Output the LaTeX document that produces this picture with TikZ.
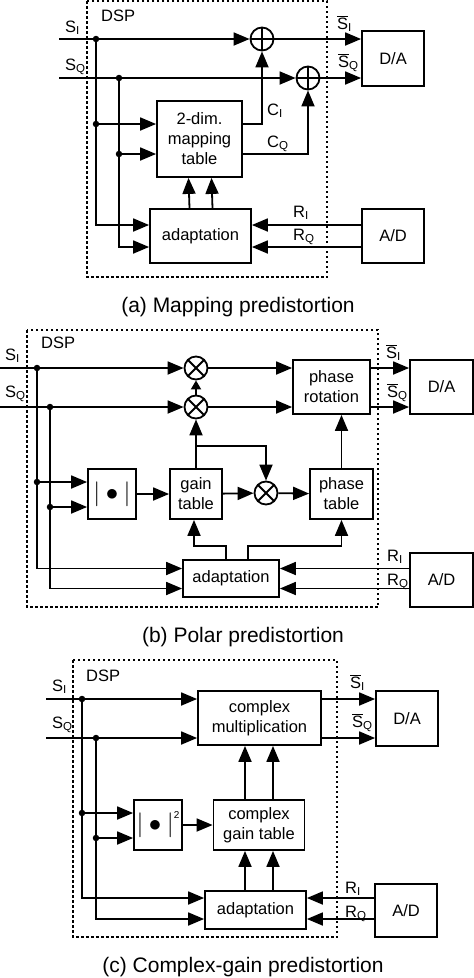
\documentclass[tikz,border=0pt]{standalone}
\usepackage{fontspec}
\setmainfont{Liberation Sans}
\usetikzlibrary{positioning,calc,arrows.meta}
\newcommand{\boxfont}{\fontsize{16.5}{20}\selectfont}
\newcommand{\capfont}{\fontsize{21}{24}\selectfont}
\newcommand{\absfont}{\fontsize{29}{29}\selectfont}
\newcommand{\sbar}{$\overline{\mbox{S}}$}
\newcommand{\blk}[6]{
	\node[box, minimum width=#4pt, minimum height=#5pt] (#1) at (#2pt,-#3pt) {#6};
}
\newcommand{\junc}[3]{
	\node[junc] (j_#1) at (#2pt,-#3pt) {};
}
\newcommand{\lbl}[4]{
	\node[lbl] (l_#1) at (#2pt,-#3pt) {#4};
}
\tikzset{
	box/.style={draw, line width=1.8pt, align=center, inner sep=1pt, font=\boxfont},
	wire/.style={line width=1.8pt},
	sig/.style={line width=1.8pt, -{Triangle[length=16pt,width=13pt]}},
	sigs/.style={line width=1.8pt, -{Triangle[length=9pt,width=10pt]}},
	junc/.style={circle, fill, inner sep=0pt, minimum size=6.5pt},
	lbl/.style={anchor=base west, inner sep=0pt, font=\boxfont},
	dsp/.style={draw, line width=1.4pt, dash pattern=on 2.5pt off 2.5pt},
	mixx/.style={circle, draw, line width=1.8pt, minimum size=23pt, inner sep=0pt,
		path picture={\draw[line width=1.8pt]
			(path picture bounding box.north west) -- (path picture bounding box.south east)
			(path picture bounding box.north east) -- (path picture bounding box.south west);}},
	mixp/.style={circle, draw, line width=1.8pt, minimum size=23pt, inner sep=0pt,
		path picture={\draw[line width=1.8pt]
			(path picture bounding box.north) -- (path picture bounding box.south)
			(path picture bounding box.east) -- (path picture bounding box.west);}}
}
\begin{document}
\begin{tikzpicture}
		\useasboundingbox (0,0) rectangle (474pt,-978pt);

		% (a) mapping
		\draw[dsp] (87pt,-1pt) rectangle (327pt,-277pt);
		\lbl{dspa}{101}{21}{DSP};
		\coordinate (in_ai) at (59pt,-39pt);
		\coordinate (in_aq) at (59pt,-78pt);
		\node[mixp] (add1) at (262pt,-39pt) {};
		\node[mixp] (add2) at (308pt,-78pt) {};
		\blk{da_a}{393}{58.5}{62}{55}{D/A};
		\blk{map}{199.5}{139}{85}{76}{2-dim.\\mapping\\table};
		\blk{adapt_a}{200.5}{236}{101}{54}{adaptation};
		\blk{ad_a}{393}{236}{62}{54}{A/D};
		\junc{ai1}{96}{39};
		\junc{ai2}{96}{124};
		\junc{aq1}{119}{78};
		\junc{aq2}{119}{154};

		\draw[sig] (in_ai) -- (add1);
		\draw[sig] (in_aq) -- (add2);
		\draw[sig] (add1) -- (add1 -| da_a.west);
		\draw[sig] (add2) -- (add2 -| da_a.west);
		\draw[sig] (j_ai2) -- (j_ai2 -| map.west);
		\draw[sig] (j_aq2) -- (j_aq2 -| map.west);
		\draw[sig] (j_ai1) |- ([yshift=11pt]adapt_a.west);
		\draw[sig] (j_aq1) |- ([yshift=-11pt]adapt_a.west);
		\draw[sig] ([yshift=15pt]map.east) -| (add1);
		\draw[sig] ([yshift=-15pt]map.east) -| (add2);
		\draw[sig] ([xshift=-11pt]adapt_a.north) -- ([xshift=-11pt]map.south);
		\draw[sig] ([xshift=12pt]adapt_a.north) -- ([xshift=12pt]map.south);
		\draw[sig] ([yshift=11pt]adapt_a.east -| ad_a.west) -- ([yshift=11pt]adapt_a.east);
		\draw[sig] ([yshift=-11pt]adapt_a.east -| ad_a.west) -- ([yshift=-11pt]adapt_a.east);

		\lbl{asi}{65}{32}{S\textsubscript{I}};
		\lbl{asq}{65}{70}{S\textsubscript{Q}};
		\lbl{aoi}{337}{29}{\sbar\textsubscript{I}};
		\lbl{aoq}{338}{67}{\sbar\textsubscript{Q}};
		\lbl{aci}{267}{115}{C\textsubscript{I}};
		\lbl{acq}{267}{147}{C\textsubscript{Q}};
		\lbl{ari}{293}{217}{R\textsubscript{I}};
		\lbl{arq}{293}{240}{R\textsubscript{Q}};
		\node[font=\capfont, anchor=base] (cap_a) at (238pt,-312pt) {(a) Mapping predistortion};

		% (b) polar
		\draw[dsp] (27pt,-330pt) rectangle (378pt,-607pt);
		\lbl{dspb}{41}{348}{DSP};
		\coordinate (in_bi) at (0pt,-368pt);
		\coordinate (in_bq) at (0pt,-407pt);
		\node[mixx] (mult1) at (196pt,-368pt) {};
		\node[mixx] (mult2) at (196pt,-407pt) {};
		\node[mixx] (mult3) at (266pt,-493pt) {};
		\blk{phrot}{331.5}{387}{77}{54}{phase\\rotation};
		\blk{da_b}{441.5}{387}{63}{54}{D/A};
		\blk{abs}{112}{494}{48}{50}{\absfont$|\bullet|$};
		\blk{gain}{196}{494}{52}{50}{gain\\table};
		\blk{phtab}{341.5}{494}{63}{50}{phase\\table};
		\blk{adapt_b}{231}{578.5}{96}{37}{adaptation};
		\blk{ad_b}{441.5}{580}{63}{54}{A/D};
		\junc{bi1}{37}{368};
		\junc{bi2}{37}{482};
		\junc{bq1}{50}{407};
		\junc{bq2}{50}{507};
		\coordinate (br_b) at (196pt,-446pt);

		\draw[sig] (in_bi) -- (mult1);
		\draw[sig] (in_bq) -- (mult2);
		\draw[sig] (mult1) -- (mult1 -| phrot.west);
		\draw[sig] (mult2) -- (mult2 -| phrot.west);
		\draw[sig] (mult1 -| phrot.east) -- (mult1 -| da_b.west);
		\draw[sig] (mult2 -| phrot.east) -- (mult2 -| da_b.west);
		\draw[sigs] (mult2) -- (mult1);
		\draw[sig] (j_bi2) -- (j_bi2 -| abs.west);
		\draw[sig] (j_bq2) -- (j_bq2 -| abs.west);
		\draw[sig] (j_bi1) |- ([yshift=10pt]adapt_b.west);
		\draw[sig] (j_bq1) |- ([yshift=-10pt]adapt_b.west);
		\draw[sig] (abs) -- (gain);
		\draw[sig] (gain) -- (mult3);
		\draw[sig] (mult3) -- (phtab);
		\draw[sig] (gain) -- (mult2);
		\draw[sig] (br_b) -| (mult3);
		\draw[sig] (phtab.north) -- (phtab.north |- phrot.south);
		\draw[sig] ([xshift=-5pt]adapt_b.north) -- ++(0,13pt) -| ([xshift=-2pt]gain.south);
		\draw[sig] ([xshift=17pt]adapt_b.north) -- ++(0,13pt) -| (phtab.south);
		\draw[sig] ([yshift=10pt]adapt_b.east -| ad_b.west) -- ([yshift=10pt]adapt_b.east);
		\draw[sig] ([yshift=-10pt]adapt_b.east -| ad_b.west) -- ([yshift=-10pt]adapt_b.east);

		\lbl{bsi}{5}{360}{S\textsubscript{I}};
		\lbl{bsq}{5}{397}{S\textsubscript{Q}};
		\lbl{boi}{386}{358}{\sbar\textsubscript{I}};
		\lbl{boq}{387}{397}{\sbar\textsubscript{Q}};
		\lbl{bri}{387}{561}{R\textsubscript{I}};
		\lbl{brq}{387}{585}{R\textsubscript{Q}};
		\node[font=\capfont, anchor=base] (cap_b) at (243pt,-642pt) {(b) Polar predistortion};

		% (c) complex gain
		\draw[dsp] (73pt,-660pt) rectangle (337pt,-937pt);
		\lbl{dspc}{86}{681}{DSP};
		\coordinate (in_ci) at (46pt,-699pt);
		\coordinate (in_cq) at (46pt,-738pt);
		\blk{cmult}{259.5}{718}{123}{54}{complex\\multiplication};
		\blk{da_c}{407}{718.5}{62}{55}{D/A};
		\blk{sq}{158}{825}{48}{50}{\absfont$|\bullet|$\raisebox{13pt}{\fontsize{10}{10}\selectfont 2}};
		\blk{cgain}{259}{825}{91}{50}{complex\\gain table};
		\blk{adapt_c}{255.5}{910}{101}{38}{adaptation};
		\blk{ad_c}{406}{910.5}{62}{53}{A/D};
		\junc{ci1}{82}{699};
		\junc{ci2}{82}{813};
		\junc{cq1}{96}{738};
		\junc{cq2}{96}{838};

		\draw[sig] (in_ci) -- (in_ci -| cmult.west);
		\draw[sig] (in_cq) -- (in_cq -| cmult.west);
		\draw[sig] (in_ci -| cmult.east) -- (in_ci -| da_c.west);
		\draw[sig] (in_cq -| cmult.east) -- (in_cq -| da_c.west);
		\draw[sig] (j_ci2) -- (j_ci2 -| sq.west);
		\draw[sig] (j_cq2) -- (j_cq2 -| sq.west);
		\draw[sig] (j_ci1) |- ([yshift=12pt]adapt_c.west);
		\draw[sig] (j_cq1) |- ([yshift=-9pt]adapt_c.west);
		\draw[sig] (sq) -- (cgain);
		\draw[sig] ([xshift=-14pt]cgain.north) -- ([xshift=-14pt]cgain.north |- cmult.south);
		\draw[sig] ([xshift=14pt]cgain.north) -- ([xshift=14pt]cgain.north |- cmult.south);
		\draw[sig] ([xshift=-14pt]cgain.south |- adapt_c.north) -- ([xshift=-14pt]cgain.south);
		\draw[sig] ([xshift=14pt]cgain.south |- adapt_c.north) -- ([xshift=14pt]cgain.south);
		\draw[sig] ([yshift=12pt]adapt_c.east -| ad_c.west) -- ([yshift=12pt]adapt_c.east);
		\draw[sig] ([yshift=-9pt]adapt_c.east -| ad_c.west) -- ([yshift=-9pt]adapt_c.east);

		\lbl{csi}{52}{691}{S\textsubscript{I}};
		\lbl{csq}{52}{728}{S\textsubscript{Q}};
		\lbl{coi}{350}{688}{\sbar\textsubscript{I}};
		\lbl{coq}{352}{727}{\sbar\textsubscript{Q}};
		\lbl{cri}{345}{893}{R\textsubscript{I}};
		\lbl{crq}{345}{917}{R\textsubscript{Q}};
		\node[font=\capfont, anchor=base] (cap_c) at (243pt,-972pt) {(c) Complex-gain predistortion};
\end{tikzpicture}
\end{document}
